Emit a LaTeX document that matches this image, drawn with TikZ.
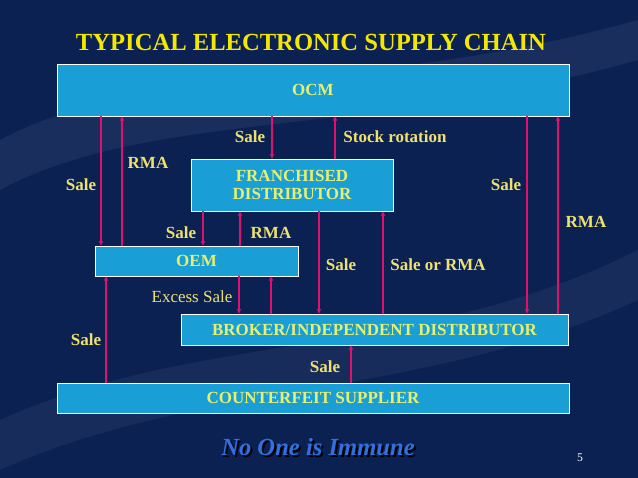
\documentclass[tikz,border=0pt]{standalone}
\usepackage{fontspec}
\setmainfont{Liberation Serif}
\begin{document}
\begin{tikzpicture}[x=0.03cm,y=-0.03cm,
 box/.style={draw=white,line width=0.8pt,fill=boxc,inner sep=0pt,font=\bfseries\fontsize{14.5}{16}\selectfont,text=boxt,align=center},
 arr/.style={draw=pinkc,line width=1pt,-{Stealth[length=4pt,width=4pt]}},
 lab/.style={font=\bfseries\fontsize{14.5}{16}\selectfont,text=labc},
 lab2/.style={font=\fontsize{14.5}{16}\selectfont,text=labc}]
\definecolor{boxc}{HTML}{1A9ED6}
\definecolor{boxt}{HTML}{E6F070}
\definecolor{pinkc}{HTML}{E0106E}
\definecolor{labc}{HTML}{F0E070}
\definecolor{bgc}{HTML}{0B2152}
\definecolor{titlec}{HTML}{F5E800}
\definecolor{immc}{HTML}{3070E0}
\usetikzlibrary{arrows.meta}
\fill[bgc] (0,0) rectangle (638,478);
\fill[white,opacity=0.06] (0,140) .. controls (150,60) and (350,100) .. (638,20) -- (638,60) .. controls (350,140) and (150,110) .. (0,190) -- cycle;
\fill[white,opacity=0.05] (0,420) .. controls (200,330) and (420,360) .. (638,250) -- (638,300) .. controls (420,400) and (200,380) .. (0,470) -- cycle;
\node[font=\bfseries\fontsize{21}{24}\selectfont,text=titlec] (title) at (311,42) {TYPICAL ELECTRONIC SUPPLY CHAIN};
\node[box,minimum width=512*0.03cm,minimum height=52*0.03cm] (ocm) at (313,90) {OCM};
\node[box,minimum width=202*0.03cm,minimum height=52*0.03cm] (fd) at (292,185) {FRANCHISED\\DISTRIBUTOR};
\node[box,minimum width=203*0.03cm,minimum height=30*0.03cm] (oem) at (196.5,261) {OEM};
\node[box,minimum width=387*0.03cm,minimum height=31*0.03cm] (br) at (374.5,329.5) {BROKER/INDEPENDENT DISTRIBUTOR};
\node[box,minimum width=512*0.03cm,minimum height=30*0.03cm] (cs) at (313,398) {COUNTERFEIT SUPPLIER};
% arrows
\draw[arr] (ocm.south -| 101,0) -- (oem.north -| 101,0);
\draw[arr] (oem.north -| 122,0) -- (ocm.south -| 122,0);
\draw[arr] (ocm.south -| 272,0) -- (fd.north -| 272,0);
\draw[arr] (fd.north -| 335,0) -- (ocm.south -| 335,0);
\draw[arr] (ocm.south -| 527,0) -- (br.north -| 527,0);
\draw[arr] (br.north -| 558,0) -- (ocm.south -| 558,0);
\draw[arr] (fd.south -| 203,0) -- (oem.north -| 203,0);
\draw[arr] (oem.north -| 240,0) -- (fd.south -| 240,0);
\draw[arr] (fd.south -| 319,0) -- (br.north -| 319,0);
\draw[arr] (br.north -| 383,0) -- (fd.south -| 383,0);
\draw[arr] (oem.south -| 239,0) -- (br.north -| 239,0);
\draw[arr] (br.north -| 271,0) -- (oem.south -| 271,0);
\draw[arr] (cs.north -| 106,0) -- (oem.south -| 106,0);
\draw[arr] (cs.north -| 351,0) -- (br.south -| 351,0);
% labels
\node[lab] (l1) at (81,185) {Sale};
\node[lab] (l2) at (148,163) {RMA};
\node[lab] (l3) at (250,137) {Sale};
\node[lab] (l4) at (395,137) {Stock rotation};
\node[lab] (l5) at (506,185) {Sale};
\node[lab] (l6) at (586,222) {RMA};
\node[lab] (l7) at (181,233) {Sale};
\node[lab] (l8) at (271,233) {RMA};
\node[lab] (l9) at (341,265) {Sale};
\node[lab] (l10) at (438,265) {Sale or RMA};
\node[lab2] (l11) at (192,297) {Excess Sale};
\node[lab] (l12) at (86,340) {Sale};
\node[lab] (l13) at (325,367) {Sale};
\node[font=\bfseries\itshape\fontsize{21}{24}\selectfont,text=black] at (320,449) {No One is Immune};
\node[font=\bfseries\itshape\fontsize{21}{24}\selectfont,text=immc] (imm) at (318,447) {No One is Immune};
\node[font=\fontsize{10}{12}\selectfont,text=white] (pg) at (580,458) {5};
\end{tikzpicture}
\end{document}
